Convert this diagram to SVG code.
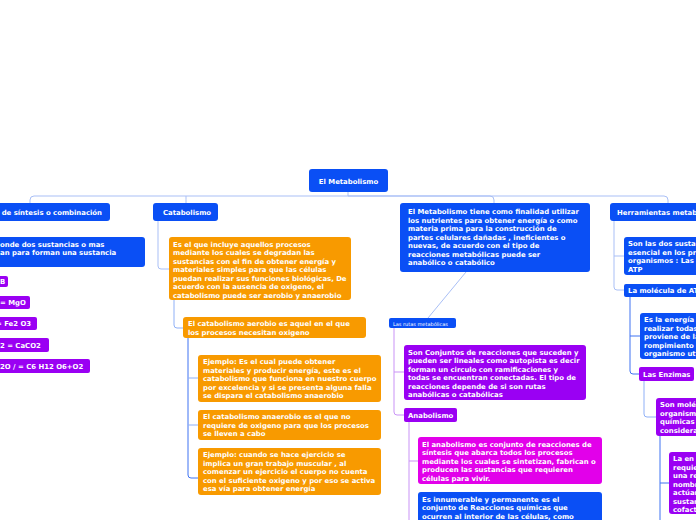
<svg xmlns="http://www.w3.org/2000/svg" width="696" height="520" viewBox="0 0 696 520">
<style>
text{font-family:"DejaVu Sans","Liberation Sans",sans-serif;font-size:6.9px;font-weight:bold;fill:#fff}
.b{fill:#0a4ff5}.o{fill:#f89a00}.p{fill:#9a00f3}.m{fill:#e200ea}
.c{fill:none;stroke:#a9bff6;stroke-width:1}
.cb{fill:none;stroke:#3f73f2;stroke-width:1}
.cp{fill:none;stroke:#c993f6;stroke-width:1}
.co{fill:none;stroke:#8fb0f7;stroke-width:1}
</style>
<rect width="696" height="520" fill="#fff"/>
<g id="connectors">
<path class="c" d="M348 192V196H34Q30 196 30 200V203M348 196H490Q494 196 494 200V203M348 196H664Q668 196 668 200V203M186 196Q186 200 186 203"/>
<path class="c" d="M158 221V266Q158 269 161 269H169"/>
<path class="co" d="M174 300V325Q174 328 177 328H183"/>
<path class="cb" d="M188 338V475Q188 478 191 478H198"/>
<path class="co" d="M188 378H198M188 425H198"/>
<path class="c" d="M466 272L428 318"/>
<path class="cp" d="M394 328V412Q394 415 397 415H404M394 372H404"/>
<path class="cp" d="M409 422V520M409 461H418"/>
<path class="c" d="M614 221V287Q614 290 617 290H624M614 256H624"/>
<path class="cb" d="M630 297V371Q630 374 633 374H639M630 336H640"/>
<path class="co" d="M644 381V414Q644 417 647 417H656"/>
<path class="cb" d="M660 436V520M660 483H669"/>
</g>
<g id="main"><rect class="b" x="309" y="169" width="79" height="23" rx="3"/><text x="348.5" y="183.5" text-anchor="middle">El Metabolismo</text></g>
<g id="sintesis"><rect class="b" x="-10" y="203" width="120" height="18" rx="3"/><text x="102" y="214.5" text-anchor="end">de síntesis o combinación</text></g>
<g id="sintesis-def"><rect class="b" x="-10" y="237" width="155" height="30" rx="3"/><text x="0" y="246.5">onde dos sustancias o mas</text><text x="0" y="255">an para forman una sustancia</text></g>
<g id="eq1"><rect class="p" x="-10" y="276" width="18" height="11" rx="2"/><text x="0" y="284">B</text></g>
<g id="eq2"><rect class="p" x="-10" y="296" width="40" height="13" rx="2"/><text x="0" y="305">=  MgO</text></g>
<g id="eq3"><rect class="p" x="-10" y="317" width="47" height="13" rx="2"/><text x="-4" y="326">= Fe2 O3</text></g>
<g id="eq4"><rect class="p" x="-10" y="338" width="59" height="14" rx="2"/><text x="0" y="347.5">2 = CaCO2</text></g>
<g id="eq5"><rect class="p" x="-10" y="359" width="100" height="14" rx="2"/><text x="0" y="368.5">2O / = C6 H12 O6+O2</text></g>
<g id="catabolismo"><rect class="b" x="153" y="203" width="65" height="18" rx="3"/><text x="163" y="214.5">Catabolismo</text></g>
<g id="cat-def"><rect class="o" x="169" y="237" width="182" height="63" rx="3"/>
<text x="173" y="246.5">Es el que incluye aquellos procesos</text><text x="173" y="255">mediante los cuales se degradan las</text><text x="173" y="263.5">sustancias con el fin de obtener energía y</text><text x="173" y="272">materiales simples para que las células</text><text x="173" y="280.5">puedan realizar sus funciones biológicas, De</text><text x="173" y="289">acuerdo con la ausencia de oxigeno, el</text><text x="173" y="297.5">catabolismo puede ser aerobio y anaerobio</text></g>
<g id="aerobio"><rect class="o" x="183" y="317" width="183" height="21" rx="3"/><text x="188" y="326">El catabolismo aerobio es aquel en el que</text><text x="188" y="334.5">los procesos necesitan oxigeno</text></g>
<g id="ej1"><rect class="o" x="198" y="355" width="183" height="47" rx="3"/><text x="203" y="364">Ejemplo: Es el cual puede obtener</text><text x="203" y="372.5">materiales y producir energía, este es el</text><text x="203" y="381">catabolismo que funciona en nuestro cuerpo</text><text x="203" y="389.5">por excelencia y si se presenta alguna falla</text><text x="203" y="398">se dispara el catabolismo anaerobio</text></g>
<g id="anaerobio"><rect class="o" x="198" y="410" width="183" height="30" rx="3"/><text x="203" y="419">El catabolismo anaerobio es el que no</text><text x="203" y="427.5">requiere de oxigeno para que los procesos</text><text x="203" y="436">se lleven a cabo</text></g>
<g id="ej2"><rect class="o" x="198" y="448" width="183" height="47" rx="3"/><text x="203" y="457">Ejemplo:  cuando se hace ejercicio se</text><text x="203" y="465.5">implica un gran trabajo muscular , al</text><text x="203" y="474">comenzar un ejercicio el cuerpo no cuenta</text><text x="203" y="482.5">con el suficiente oxigeno y por eso se activa</text><text x="203" y="491">esa vía para obtener energía</text></g>
<g id="finalidad"><rect class="b" x="400" y="203" width="190" height="69" rx="3"/><text x="408" y="214">El Metabolismo tiene como finalidad utilizar</text><text x="408" y="222.5">los nutrientes para obtener energía o como</text><text x="408" y="231">materia prima para la construcción de</text><text x="408" y="239.5">partes celulares dañadas , ineficientes o</text><text x="408" y="248">nuevas, de acuerdo con el tipo de</text><text x="408" y="256.5">reacciones metabólicas  puede ser</text><text x="408" y="265">anabólico o catabólico</text></g>
<g id="rutas"><rect class="b" x="389" y="318" width="67" height="10" rx="2"/><text x="393" y="325.5" style="font-size:5px;font-weight:normal">Las rutas metabólicas</text></g>
<g id="rutas-def"><rect class="p" x="404" y="345" width="182" height="55" rx="3"/><text x="408" y="354.5">Son Conjuntos de reacciones que suceden y</text><text x="408" y="363">pueden ser lineales como autopista es decir</text><text x="408" y="371.5">forman un circulo con ramificaciones y</text><text x="408" y="380">todas se encuentran conectadas. El tipo de</text><text x="408" y="388.5">reacciones depende de si son rutas</text><text x="408" y="397">anabólicas o catabólicas</text></g>
<g id="anabolismo"><rect class="p" x="404" y="408" width="53" height="14" rx="2"/><text x="408" y="417.5">Anabolismo</text></g>
<g id="anab-def"><rect class="m" x="418" y="437" width="184" height="47" rx="3"/><text x="422" y="446.5">El anabolismo es conjunto de reacciones de</text><text x="422" y="455">síntesis que abarca todos los procesos</text><text x="422" y="463.5">mediante los cuales se sintetizan, fabrican o</text><text x="422" y="472">producen las sustancias que requieren</text><text x="422" y="480.5">células para vivir.</text></g>
<g id="innumerable"><rect class="b" x="418" y="492" width="184" height="40" rx="3"/><text x="422" y="501.5">Es innumerable y permanente es el</text><text x="422" y="510">conjunto de Reacciones químicas que</text><text x="422" y="518.5">ocurren al interior de las células, como</text></g>
<g id="herramientas"><rect class="b" x="610" y="203" width="96" height="18" rx="3"/><text x="617" y="214.5">Herramientas metab</text></g>
<g id="sustancias"><rect class="b" x="624" y="237" width="82" height="38" rx="3"/><text x="628" y="246">Son las dos susta</text><text x="628" y="254.5">esencial en los pr</text><text x="628" y="263">organismos : Las</text><text x="628" y="271.5">ATP</text></g>
<g id="atp"><rect class="b" x="624" y="284" width="82" height="13" rx="2"/><text x="628" y="293">La molécula de AT</text></g>
<g id="energia"><rect class="b" x="640" y="313" width="66" height="46" rx="3"/><text x="644" y="322">Es la energía</text><text x="644" y="330.5">realizar todas</text><text x="644" y="339">proviene de la</text><text x="644" y="347.5">rompimiento</text><text x="644" y="356">organismo ut</text></g>
<g id="enzimas"><rect class="p" x="639" y="367" width="55" height="14" rx="2"/><text x="643" y="376.5">Las Enzimas</text></g>
<g id="moleculas"><rect class="p" x="656" y="398" width="50" height="38" rx="3"/><text x="660" y="407">Son molé</text><text x="660" y="415.5">organism</text><text x="660" y="424">químicas</text><text x="660" y="432.5">considera</text></g>
<g id="la-en"><rect class="p" x="669" y="452" width="37" height="62" rx="3"/><text x="673" y="461">La en</text><text x="673" y="469.5">requie</text><text x="673" y="478">una re</text><text x="673" y="486.5">nombr</text><text x="673" y="495">actúan</text><text x="673" y="503.5">sustan</text><text x="673" y="512">cofact</text></g>
</svg>
